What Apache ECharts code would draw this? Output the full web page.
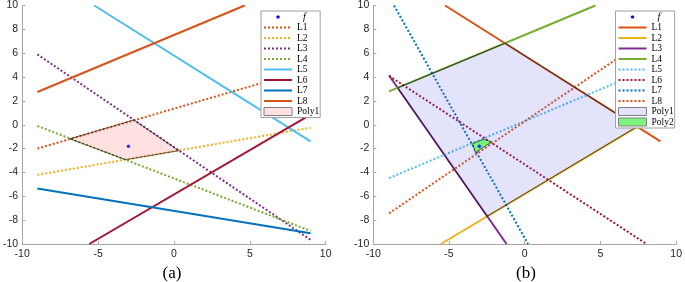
<!DOCTYPE html>
<html>
<head>
<meta charset="utf-8">
<script src="https://cdn.jsdelivr.net/npm/echarts@6/dist/echarts.min.js"></script>
<style>
  html, body { margin: 0; padding: 0; background: #fff; }
  #chart { width: 685px; height: 282px; }
</style>
</head>
<body>
<div id="chart"></div>
<script>
// 目标点 f（两幅图相同）
const fPoint = [[-3.0, -1.8]];

// (a) 八条直线，端点 [x, y]
const aL1 = [[-9, -2.0], [9, 4.7]];
const aL2 = [[-9, -4.2], [9, -0.25]];
const aL3 = [[-9, 5.9], [9, -9.65]];
const aL4 = [[-9, -0.1], [9, -8.9]];
const aL5 = [[-5.25, 10], [9, -1.4]];
const aL6 = [[-5.58, -10], [9, 0.85]];
const aL7 = [[-9, -5.35], [9, -9.1]];
const aL8 = [[-9, 2.75], [4.66, 10]];
const aPoly1 = [[-6.85, -1.18], [-2.65, 0.4], [0.32, -2.17], [-3.18, -2.93]];

// (b) 八条直线
const bL1 = [[-5.26, 10], [8.96, -1.4]];
const bL2 = [[-5.54, -10], [9, 1.02]];
const bL3 = [[-8.96, 4.13], [-1.2, -10]];
const bL4 = [[-8.96, 2.8], [4.67, 10]];
const bL5 = [[-8.96, -4.47], [9, 5.1]];
const bL6 = [[-8.96, 4.1], [8.04, -10]];
const bL7 = [[-8.63, 10], [0.22, -10]];
const bL8 = [[-8.96, -7.43], [9, 8.05]];
const bPoly1 = [[-8.39, 3.1], [-1.3, 6.84], [7.42, -0.17], [-2.48, -7.68]];
const bPoly2 = [[-3.44, -1.58], [-2.72, -1.22], [-2.18, -1.44], [-3.26, -2.33]];

const xTicks = { min: -10, max: 10, interval: 5 };
const yTicks = { min: -10, max: 10, interval: 2 };

const C = {
  blue: '#0072BD', orange: '#D95319', yellow: '#EDB120', purple: '#7E2F8E',
  green: '#77AC30', cyan: '#4DBEEE', red: '#A2142F'
};
const DOT = [2, 2];
const dotIcon = 'path://M0,0L0,0M28,8L28,8M13.2,2.6L14.8,2.6L15.6,3.4L15.6,4.8L14.8,5.6L13.2,5.6L12.4,4.8L12.4,3.4Z';

function lineSeries(name, data, color, dotted, idx) {
  return {
    name, type: 'line', xAxisIndex: idx, yAxisIndex: idx, data,
    symbol: 'none', silent: true, z: 2,
    lineStyle: { color, width: 2, type: dotted ? DOT : 'solid' },
    itemStyle: { color }
  };
}

function polySeries(name, pts, fill, idx) {
  return {
    name, type: 'custom', xAxisIndex: idx, yAxisIndex: idx, data: pts,
    silent: true, z: 3, itemStyle: { color: fill },
    renderItem: (params, api) => {
      if (params.dataIndex !== 0) return null;
      const points = pts.map((p) => api.coord(p));
      return {
        type: 'polygon', shape: { points },
        style: { fill, stroke: 'rgba(0,0,0,0.6)', lineWidth: 1 }
      };
    }
  };
}

function axisPair(idx) {
  const common = {
    type: 'value', gridIndex: idx, splitLine: { show: false },
    axisLine: { show: true, onZero: false, lineStyle: { color: '#a6a6a6', width: 1 } },
    axisTick: { show: true, inside: true, length: 3, lineStyle: { color: '#a6a6a6' } },
  };
  return {
    x: Object.assign({}, common, xTicks, {
      axisLabel: { color: '#262626', fontFamily: 'Liberation Sans', fontSize: 10.5, margin: 5 }
    }),
    y: Object.assign({}, common, yTicks, {
      axisLabel: { color: '#262626', fontFamily: 'Liberation Sans', fontSize: 10.5, margin: 4 }
    })
  };
}

function legendOpt(prefix, left, names, polys) {
  return {
    orient: 'vertical', left, top: 11, padding: [1, 1, 1, 2],
    itemWidth: 28, itemHeight: 8, itemGap: 0.5,
    backgroundColor: '#fff', borderColor: '#a0a0a0', borderWidth: 1,
    selectedMode: false,
    lineStyle: { width: 2 },
    // 隐藏折线图例中间的圆点
    itemStyle: { opacity: 0 },
    textStyle: {
      fontFamily: 'Liberation Serif', fontSize: 9.5, color: '#000', lineHeight: 10,
      rich: { i: { fontFamily: 'Liberation Serif', fontSize: 10, fontStyle: 'italic', padding: [0, 0, 0, 6] } }
    },
    formatter: (n) => (n === prefix + 'f' ? '{i|f}' : n.slice(2)),
    data: [{ name: prefix + 'f', icon: dotIcon, itemStyle: { color: '#0000ff', opacity: 1 } }]
      .concat(names.map((n) => prefix + n))
      .concat(polys.map((p) => ({
        name: prefix + p.name, icon: 'rect',
        itemStyle: { color: p.color, borderColor: '#808080', borderWidth: 1, opacity: 1 }
      })))
  };
}

const ax0 = axisPair(0);
const ax1 = axisPair(1);
const lines = ['L1', 'L2', 'L3', 'L4', 'L5', 'L6', 'L7', 'L8'];
const pinkFill = 'rgba(255,120,120,0.22)';
const lavFill = 'rgba(100,100,240,0.18)';
const greenFill = 'rgba(110,245,110,0.92)';

const chart = echarts.init(document.getElementById('chart'), null, { renderer: 'canvas' });
chart.setOption({
  animation: false,
  grid: [
    { left: 19.3, top: 3.3, width: 306.4, height: 240.7 },
    { left: 373.3, top: 3.3, width: 306.7, height: 240.7 }
  ],
  xAxis: [ax0.x, ax1.x],
  yAxis: [ax0.y, ax1.y],
  legend: [
    legendOpt('a:', 261, lines, [{ name: 'Poly1', color: 'rgb(255,225,225)' }]),
    legendOpt('b:', 615.5, lines, [
      { name: 'Poly1', color: 'rgb(227,227,252)' },
      { name: 'Poly2', color: 'rgb(125,245,125)' }
    ])
  ],
  graphic: [
    { type: 'text', x: 172, y: 274, style: { text: '(a)', font: '17px "Liberation Serif"', fill: '#000', align: 'center', verticalAlign: 'middle' } },
    { type: 'text', x: 526, y: 274, style: { text: '(b)', font: '17px "Liberation Serif"', fill: '#000', align: 'center', verticalAlign: 'middle' } }
  ],
  series: [
    lineSeries('a:L1', aL1, C.orange, true, 0),
    lineSeries('a:L2', aL2, C.yellow, true, 0),
    lineSeries('a:L3', aL3, C.purple, true, 0),
    lineSeries('a:L4', aL4, C.green, true, 0),
    lineSeries('a:L5', aL5, C.cyan, false, 0),
    lineSeries('a:L6', aL6, C.red, false, 0),
    lineSeries('a:L7', aL7, C.blue, false, 0),
    lineSeries('a:L8', aL8, C.orange, false, 0),
    polySeries('a:Poly1', aPoly1, pinkFill, 0),
    { name: 'a:f', type: 'scatter', xAxisIndex: 0, yAxisIndex: 0, data: fPoint, symbolSize: 3.5, itemStyle: { color: '#0000ff' }, z: 5, silent: true },

    lineSeries('b:L1', bL1, C.orange, false, 1),
    lineSeries('b:L2', bL2, C.yellow, false, 1),
    lineSeries('b:L3', bL3, C.purple, false, 1),
    lineSeries('b:L4', bL4, C.green, false, 1),
    lineSeries('b:L5', bL5, C.cyan, true, 1),
    lineSeries('b:L6', bL6, C.red, true, 1),
    lineSeries('b:L7', bL7, C.blue, true, 1),
    lineSeries('b:L8', bL8, C.orange, true, 1),
    polySeries('b:Poly1', bPoly1, lavFill, 1),
    polySeries('b:Poly2', bPoly2, greenFill, 1),
    { name: 'b:f', type: 'scatter', xAxisIndex: 1, yAxisIndex: 1, data: fPoint, symbolSize: 3.5, itemStyle: { color: '#0000ff' }, z: 5, silent: true }
  ]
});
</script>
</body>
</html>
